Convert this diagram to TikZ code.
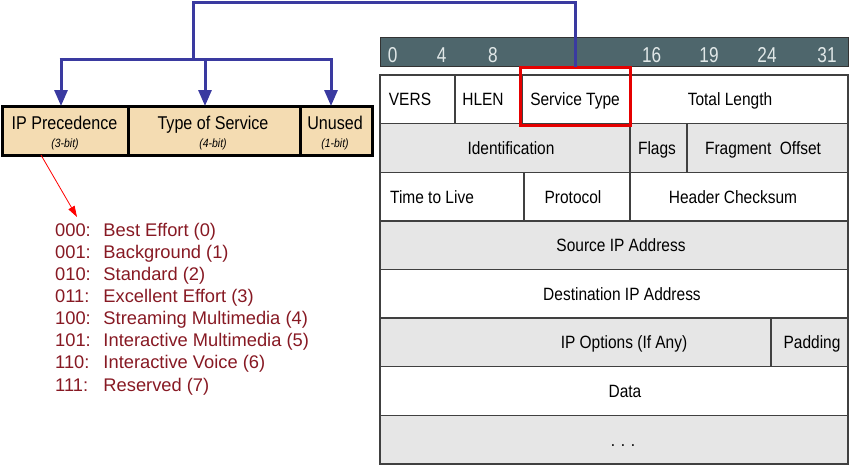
\documentclass[tikz,border=0pt]{standalone}
\usepackage{fontspec}
\setmainfont{Liberation Sans}
\newfontfamily\nf[FakeStretch=0.87]{Liberation Sans}
\newfontfamily\hf[FakeStretch=0.8]{Liberation Sans}
\usetikzlibrary{arrows.meta}
\definecolor{hdr}{RGB}{78,102,108}
\definecolor{rowg}{RGB}{230,230,230}
\definecolor{tanbox}{RGB}{244,220,178}
\definecolor{blu}{RGB}{58,58,160}
\definecolor{lst}{RGB}{135,25,35}
\definecolor{hnum}{RGB}{225,232,232}
\definecolor{gridc}{RGB}{64,64,64}
\newcommand\tcell[5]{\node[cellbox,fill=#5,minimum width={#3-#2}] (#1) at ({(#2+#3)/2},#4) {};}
\begin{document}
\begin{tikzpicture}[x=1pt,y=-1pt,
  cellbox/.style={draw=gridc,line width=1.4pt,minimum height=48.6pt,inner sep=0pt,outer sep=0pt},
  tt/.style={font={\nf\fontsize{17.8}{20}\selectfont},inner sep=0pt,anchor=base,text=black},
  hn/.style={font={\hf\fontsize{21.5}{22}\selectfont},inner sep=0pt,anchor=base,text=hnum},
  tanb/.style={draw=black,line width=3pt,fill=tanbox,minimum height=49pt,inner sep=0pt,outer sep=0pt},
  bt/.style={font={\nf\fontsize{18.5}{20}\selectfont},inner sep=0pt,anchor=base},
  bs/.style={font={\nf\fontsize{12}{14}\selectfont\itshape},inner sep=0pt,anchor=base},
  bl/.style={draw=blu,line width=3pt},
  bla/.style={bl,-{Triangle[width=13pt,length=16pt]}},
  li/.style={font={\fontsize{18.3}{20}\selectfont},text=lst,inner sep=0pt,anchor=base west}]
\useasboundingbox (0,0) rectangle (851,472);

% header bar
\node[draw=black!80,fill=hdr,line width=0.8pt,minimum width=468pt,minimum height=29pt,inner sep=0pt] (hb) at (614,51.5) {};
\node[hn] (n0) at (392.7,62.7) {0};
\node[hn] (n4) at (441.7,62.7) {4};
\node[hn] (n8) at (493,62.7) {8};
\node[hn] (n16) at (651.7,62.7) {16};
\node[hn] (n19) at (709,62.7) {19};
\node[hn] (n24) at (767,62.7) {24};
\node[hn] (n31) at (827,62.7) {31};

% table cells
\tcell{vers}{380}{455}{99.3}{white}
\tcell{hlen}{455}{522}{99.3}{white}
\tcell{serv}{522}{630}{99.3}{white}
\tcell{tlen}{630}{848}{99.3}{white}
\tcell{iden}{380}{630}{147.9}{rowg}
\tcell{flag}{630}{687}{147.9}{rowg}
\tcell{frag}{687}{848}{147.9}{rowg}
\tcell{ttl}{380}{524}{196.5}{white}
\tcell{prot}{524}{630}{196.5}{white}
\tcell{hcs}{630}{848}{196.5}{white}
\tcell{src}{380}{848}{245.1}{rowg}
\tcell{dst}{380}{848}{293.7}{white}
\tcell{opt}{380}{771}{342.3}{rowg}
\tcell{pad}{771}{848}{342.3}{rowg}
\tcell{data}{380}{848}{390.9}{white}
\tcell{more}{380}{848}{439.5}{rowg}

\node[tt] (tvers) at (410,105.8) {VERS};
\node[tt] (thlen) at (483,105.8) {HLEN};
\node[tt] (tserv) at (575,105.8) {Service Type};
\node[tt] (ttlen) at (730,105.8) {Total Length};
\node[tt] (tiden) at (511,154.4) {Identification};
\node[tt] (tflag) at (657,154.4) {Flags};
\node[tt] (tfrag) at (763,154.4) {Fragment\ \ Offset};
\node[tt] (tttl) at (432,203) {Time to Live};
\node[tt] (tprot) at (573,203) {Protocol};
\node[tt] (thcs) at (733,203) {Header Checksum};
\node[tt] (tsrc) at (621,251.6) {Source IP Address};
\node[tt] (tdst) at (622,300.2) {Destination IP Address};
\node[tt] (topt) at (624,348.8) {IP Options (If Any)};
\node[tt] (tpad) at (812,348.8) {Padding};
\node[tt] (tdata) at (625,397.4) {Data};
\node[tt] (tmore) at (623,446) {. . .};

% red highlight
\node[draw=red!90!black,line width=3pt,minimum width=110pt,minimum height=58pt,inner sep=0pt,outer sep=0pt] (st) at (575,96) {};

% left boxes
\node[tanb,minimum width=126pt] (ipp) at (65,130.5) {};
\node[tanb,minimum width=172pt] (tos) at (214,130.5) {};
\node[tanb,minimum width=72pt] (unu) at (336,130.5) {};
\node[bt] (tipp) at (64.5,129.3) {IP Precedence};
\node[bt] (ttos) at (213,129.3) {Type of Service};
\node[bt] (tunu) at (335,129.3) {Unused};
\node[bs] (sipp) at (65,147) {(3-bit)};
\node[bs] (stos) at (213,147) {(4-bit)};
\node[bs] (sunu) at (335,147) {(1-bit)};

% blue connectors
\coordinate (tp) at (193,2.5);
\coordinate (jn) at (193,59);
\coordinate (ja) at (61,59);
\coordinate (jb) at (205,59);
\coordinate (jc) at (331,59);
\draw[bl] (st.north) |- (tp) -- (jn);
\draw[bl] ([xshift=-1.5pt]ja) -- ([xshift=1.5pt]jc);
\draw[bla] (ja) -- (ja |- ipp.north);
\draw[bla] (jb) -- (jb |- tos.north);
\draw[bla] (jc) -- (jc |- unu.north);

% red arrow and list
\coordinate (rs) at (41,155);
\coordinate (rt) at (77,217);
\draw[red,line width=0.8pt,-{Triangle[width=7pt,length=11pt]}] (rs) -- (rt);
\node[li] (l0) at (55,236.3) {\makebox[48.3pt][l]{000:}Best Effort (0)};
\node[li] (l1) at (55,258.4) {\makebox[48.3pt][l]{001:}Background (1)};
\node[li] (l2) at (55,280.5) {\makebox[48.3pt][l]{010:}Standard (2)};
\node[li] (l3) at (55,302.6) {\makebox[48.3pt][l]{011:}Excellent Effort (3)};
\node[li] (l4) at (55,324.7) {\makebox[48.3pt][l]{100:}Streaming Multimedia (4)};
\node[li] (l5) at (55,346.8) {\makebox[48.3pt][l]{101:}Interactive Multimedia (5)};
\node[li] (l6) at (55,368.9) {\makebox[48.3pt][l]{110:}Interactive Voice (6)};
\node[li] (l7) at (55,391) {\makebox[48.3pt][l]{111:}Reserved (7)};
\end{tikzpicture}
\end{document}
